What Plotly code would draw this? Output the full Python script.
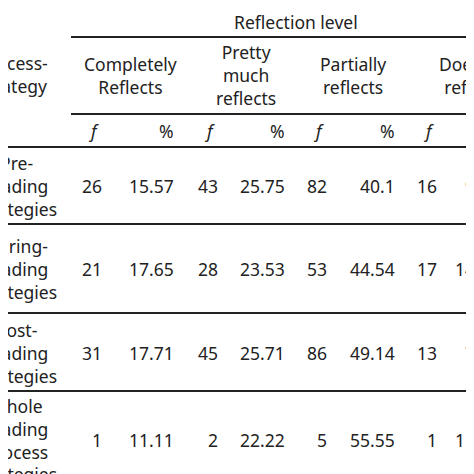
import plotly.graph_objects as go

strategies = ["Pre-<br>reading<br>strategies", "During-<br>reading<br>strategies",
              "Post-<br>reading<br>strategies", "Whole<br>reading<br>process<br>strategies"]
levels = ["Completely<br>Reflects", "Pretty<br>much<br>reflects", "Partially<br>reflects", "Doesn't<br>reflect"]
f_completely = [26, 21, 31, 1]
p_completely = ["15.57", "17.65", "17.71", "11.11"]
f_pretty = [43, 28, 45, 2]
p_pretty = ["25.75", "23.53", "25.71", "22.22"]
f_partially = [82, 53, 86, 5]
p_partially = ["40.1", "44.54", "49.14", "55.55"]
f_doesnt = [16, 17, 13, 1]
p_doesnt = ["9.58", "14.29", "7.43", "11.11"]

FONT = dict(family="Noto Sans, Open Sans", size=17.5, color="#222")
fig = go.Figure()
ann = []
def t(x, y, s, xa="center", italic=False, xshift=0):
    txt = f"<i>{s}</i>" if italic else s
    ann.append(dict(x=x, y=y, text=txt, xref="x", yref="y", showarrow=False,
                    xanchor=xa, yanchor="middle", font=FONT, align="center", xshift=xshift))

t(288, 14, "Reflection level")
t(5, 66, "Process-<br>strategy")
lvl_x = [122, 238, 345, 462]
for x, s in zip(lvl_x, levels):
    t(x, 67, s)
f_right = [96, 212, 321, 431]
p_right = [168, 279, 389, 460]
p_shift = [0, 0, 0, 34]
for fx, px, sh in zip(f_right, p_right, p_shift):
    t(fx - 10, 123, "f", italic=True)
    t(px, 123, "%", xa="right", xshift=sh)

row_y = [178, 261, 345, 432]
cols = [(f_completely, p_completely), (f_pretty, p_pretty),
        (f_partially, p_partially), (f_doesnt, p_doesnt)]
for i, y in enumerate(row_y):
    t(8, y, strategies[i])
    for (fv, pv), fx, px, sh in zip(cols, f_right, p_right, p_shift):
        t(fx, y, str(fv[i]), xa="right")
        t(px, y, pv[i], xa="right", xshift=sh)

shapes = []
for y, x0 in [(29, 63), (106, 63), (139, 0), (216, 0), (305, 0), (383, 0)]:
    shapes.append(dict(type="line", x0=x0, x1=474, y0=y, y1=y, xref="x", yref="y",
                       line=dict(color="#222", width=2)))

fig.update_layout(width=474, height=474, margin=dict(l=0, r=0, t=0, b=0),
                  paper_bgcolor="white", plot_bgcolor="white",
                  xaxis=dict(range=[0, 474], visible=False, fixedrange=True),
                  yaxis=dict(range=[474, 0], visible=False, fixedrange=True),
                  annotations=ann, shapes=shapes, showlegend=False)
fig.write_html("out.html")
